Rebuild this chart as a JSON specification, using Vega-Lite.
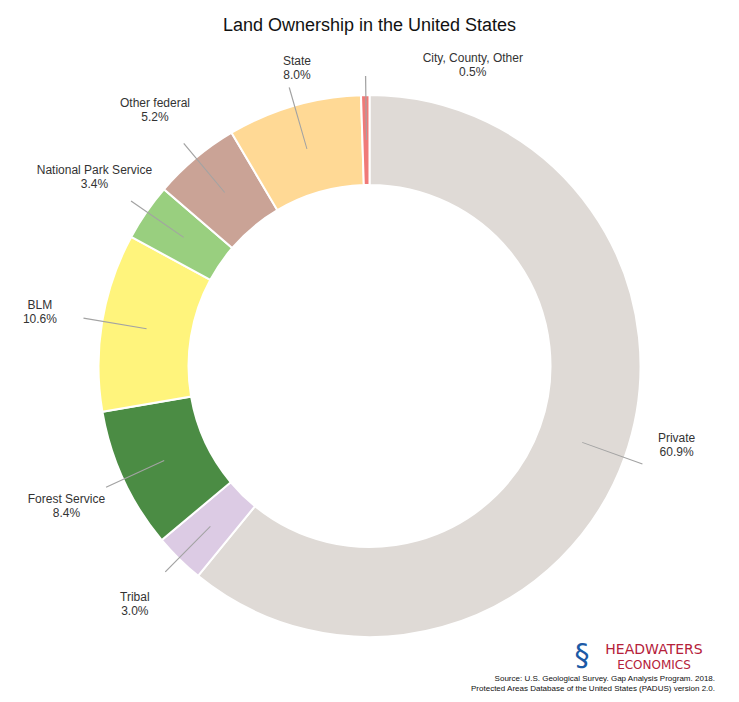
{
  "$schema": "https://vega.github.io/schema/vega-lite/v6.json",
  "width": 739,
  "height": 702,
  "autosize": {"type": "fit", "contains": "padding"},
  "padding": {"top": 17, "bottom": 4, "left": 0, "right": 0},
  "background": "#ffffff",
  "title": {
    "text": "Land Ownership in the United States",
    "font": "Liberation Sans",
    "fontSize": 18,
    "fontWeight": "normal",
    "color": "#111111",
    "offset": -1
  },
  "config": {"view": {"stroke": null}, "text": {"font": "Liberation Sans"}},
  "layer": [
    {
      "data": {
        "values": [
          {"seq": 1, "owner": "Private", "share": 0.609},
          {"seq": 2, "owner": "Tribal", "share": 0.030},
          {"seq": 3, "owner": "Forest Service", "share": 0.084},
          {"seq": 4, "owner": "BLM", "share": 0.106},
          {"seq": 5, "owner": "National Park Service", "share": 0.034},
          {"seq": 6, "owner": "Other federal", "share": 0.052},
          {"seq": 7, "owner": "State", "share": 0.080},
          {"seq": 8, "owner": "City, County, Other", "share": 0.005}
        ]
      },
      "transform": [
        {"window": [{"op": "sum", "field": "share", "as": "cum"}], "sort": [{"field": "seq"}]},
        {"calculate": "datum.cum - datum.share / 2", "as": "mid"},
        {"calculate": "datum.mid + 0.0007", "as": "mid2"}
      ],
      "layer": [
        {
          "mark": {"type": "arc", "radius": 271, "radius2": 181, "stroke": "#ffffff", "strokeWidth": 2},
          "encoding": {
            "theta": {"field": "share", "type": "quantitative", "stack": true, "scale": {"domain": [0, 1]}},
            "order": {"field": "seq", "type": "quantitative"},
            "color": {
              "field": "owner",
              "type": "nominal",
              "legend": null,
              "scale": {
                "domain": ["Private", "Tribal", "Forest Service", "BLM", "National Park Service", "Other federal", "State", "City, County, Other"],
                "range": ["#dfdad6", "#dccbe4", "#4b8c44", "#fff47c", "#99cf7f", "#caa396", "#ffd995", "#f07a78"]
              }
            }
          }
        },
        {
          "mark": {"type": "arc", "radius": 290, "radius2": 226, "color": "#a3a3a3"},
          "encoding": {
            "theta": {"field": "mid", "type": "quantitative", "stack": null, "scale": {"domain": [0, 1]}},
            "theta2": {"field": "mid2"}
          }
        },
        {
          "transform": [{"filter": "datum.seq > 1 && datum.seq < 7"}],
          "mark": {"type": "text", "radius": 334, "dy": -7, "fontSize": 12, "color": "#333333"},
          "encoding": {
            "theta": {"field": "mid", "type": "quantitative", "stack": null, "scale": {"domain": [0, 1]}},
            "text": {"field": "owner"}
          }
        },
        {
          "transform": [{"filter": "datum.seq > 1 && datum.seq < 7"}],
          "mark": {"type": "text", "radius": 334, "dy": 7, "fontSize": 12, "color": "#333333"},
          "encoding": {
            "theta": {"field": "mid", "type": "quantitative", "stack": null, "scale": {"domain": [0, 1]}},
            "text": {"field": "share", "type": "quantitative", "format": ".1%"}
          }
        },
        {
          "transform": [{"filter": "datum.seq == 1"}],
          "mark": {"type": "text", "radius": 326, "dy": -37, "fontSize": 12, "color": "#333333"},
          "encoding": {
            "theta": {"field": "mid", "type": "quantitative", "stack": null, "scale": {"domain": [0, 1]}},
            "text": {"field": "owner"}
          }
        },
        {
          "transform": [{"filter": "datum.seq == 1"}],
          "mark": {"type": "text", "radius": 326, "dy": -23, "fontSize": 12, "color": "#333333"},
          "encoding": {
            "theta": {"field": "mid", "type": "quantitative", "stack": null, "scale": {"domain": [0, 1]}},
            "text": {"field": "share", "type": "quantitative", "format": ".1%"}
          }
        },
        {
          "transform": [{"filter": "datum.seq == 7"}],
          "mark": {"type": "text", "radius": 310, "dx": 14, "dy": -7, "fontSize": 12, "color": "#333333"},
          "encoding": {
            "theta": {"field": "mid", "type": "quantitative", "stack": null, "scale": {"domain": [0, 1]}},
            "text": {"field": "owner"}
          }
        },
        {
          "transform": [{"filter": "datum.seq == 7"}],
          "mark": {"type": "text", "radius": 310, "dx": 14, "dy": 7, "fontSize": 12, "color": "#333333"},
          "encoding": {
            "theta": {"field": "mid", "type": "quantitative", "stack": null, "scale": {"domain": [0, 1]}},
            "text": {"field": "share", "type": "quantitative", "format": ".1%"}
          }
        },
        {
          "transform": [{"filter": "datum.seq == 8"}],
          "mark": {"type": "text", "radius": 301, "dx": 108, "dy": -7, "fontSize": 12, "color": "#333333"},
          "encoding": {
            "theta": {"field": "mid", "type": "quantitative", "stack": null, "scale": {"domain": [0, 1]}},
            "text": {"field": "owner"}
          }
        },
        {
          "transform": [{"filter": "datum.seq == 8"}],
          "mark": {"type": "text", "radius": 301, "dx": 108, "dy": 7, "fontSize": 12, "color": "#333333"},
          "encoding": {
            "theta": {"field": "mid", "type": "quantitative", "stack": null, "scale": {"domain": [0, 1]}},
            "text": {"field": "share", "type": "quantitative", "format": ".1%"}
          }
        }
      ]
    },
    {
      "data": {"values": [{}]},
      "mark": {"type": "text", "text": "§", "font": "DejaVu Sans", "fontSize": 30, "color": "#1c5aa6", "align": "center", "baseline": "middle", "x": {"expr": "width - 157"}, "y": {"expr": "height - 42"}},
      "encoding": {}
    },
    {
      "data": {"values": [{}]},
      "mark": {"type": "text", "text": "HEADWATERS", "font": "DejaVu Sans", "fontSize": 14, "color": "#b5213a", "align": "center", "baseline": "alphabetic", "x": {"expr": "width - 85"}, "y": {"expr": "height - 44"}},
      "encoding": {}
    },
    {
      "data": {"values": [{}]},
      "mark": {"type": "text", "text": "ECONOMICS", "font": "DejaVu Sans", "fontSize": 12, "color": "#b5213a", "align": "center", "baseline": "alphabetic", "x": {"expr": "width - 85"}, "y": {"expr": "height - 29"}},
      "encoding": {}
    },
    {
      "data": {"values": [{}]},
      "mark": {"type": "text", "text": "Source: U.S. Geological Survey. Gap Analysis Program. 2018.", "fontSize": 8, "color": "#111111", "align": "right", "baseline": "alphabetic", "x": {"expr": "width - 24"}, "y": {"expr": "height - 17"}},
      "encoding": {}
    },
    {
      "data": {"values": [{}]},
      "mark": {"type": "text", "text": "Protected Areas Database of the United States (PADUS) version 2.0.", "fontSize": 8, "color": "#111111", "align": "right", "baseline": "alphabetic", "x": {"expr": "width - 24"}, "y": {"expr": "height - 7"}},
      "encoding": {}
    }
  ]
}
